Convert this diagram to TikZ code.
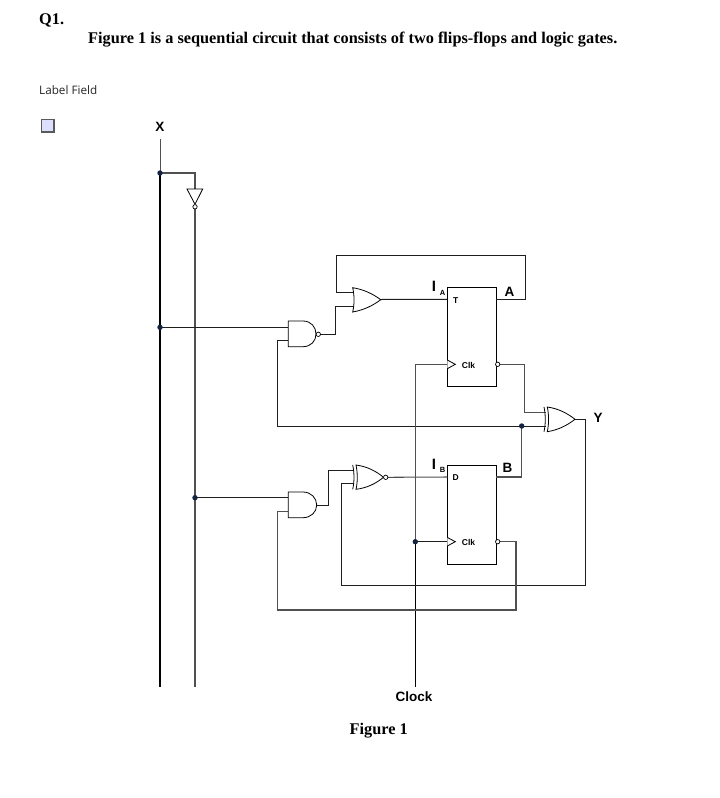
\documentclass[tikz,border=0pt]{standalone}
\usepackage{fontspec}
\setmainfont{Liberation Serif}
\setsansfont{Liberation Sans}
\newfontfamily\uifont{Open Sans}
\definecolor{wirec}{HTML}{1E1E1E}
\definecolor{wirem}{HTML}{505050}
\definecolor{dotc}{HTML}{14233F}
\tikzset{
  wire/.style={draw=wirec,line width=1pt},
  wireg/.style={draw=wirem,line width=1.05pt},
  thinw/.style={draw=wirem,line width=1pt},
  bus/.style={draw=black,line width=1.1pt},
  gate/.style={draw=black,line width=0.8pt,fill=white},
  ffbox/.style={draw=black,line width=0.8pt,fill=white,minimum width=48.4pt,anchor=north west,inner sep=0pt},
  bub/.style={circle,draw=black,line width=0.7pt,fill=white,minimum size=4.4pt,inner sep=0pt},
  jdot/.style={circle,fill=dotc,minimum size=5.4pt,inner sep=0pt},
  title/.style={font=\rmfamily\bfseries\fontsize{16.3}{18}\selectfont,anchor=west,inner sep=0pt},
  lab/.style={font=\sffamily\bfseries\fontsize{13.5}{16}\selectfont,inner sep=0pt},
  ilab/.style={font=\sffamily\bfseries\fontsize{15}{16}\selectfont,inner sep=0pt},
  sub/.style={font=\sffamily\bfseries\fontsize{7.5}{9}\selectfont,inner sep=0pt},
  pin/.style={font=\sffamily\bfseries\fontsize{8.5}{10}\selectfont,inner sep=0pt},
}
\begin{document}
\begin{tikzpicture}[x=1pt,y=-1pt]
\useasboundingbox (0,0) rectangle (720,798);
\fill[white] (0,0) rectangle (720,798);
% texts
\node[title] (q) at (39,20.5) {Q1.};
\node[title] (head) at (88,39.5) {Figure 1 is a sequential circuit that consists of two flips-flops and logic gates.};
\node[font=\uifont\fontsize{11.7}{14}\selectfont,anchor=west,inner sep=0pt,text=black!85] (lf) at (39,90.5) {Label Field};
\node[draw=black!65,line width=1.3pt,fill=blue!13,minimum size=12.4pt,inner sep=0pt,anchor=north west] (cb) at (40.8,118.8) {};
\node[lab] (xl) at (160,126.5) {X};
\node[lab] (clockl) at (414,697) {Clock};
\node[title,anchor=center] (fig) at (378.7,731) {Figure 1};
\node[lab] (yl) at (598,417.5) {Y};
% flip-flops
\node[ffbox,minimum height=99pt] (ffa) at (447.3,287.3) {};
\node[ffbox,minimum height=99.3pt] (ffb) at (447.3,465) {};
\node[pin] (t) at (455.7,301) {T};
\node[pin] (d) at (455.7,478) {D};
\node[pin] (ca) at (468.5,365) {Clk};
\node[pin] (cb2) at (468.5,542.3) {Clk};
\node[ilab] (ia) at (434,286) {I};
\node[sub] (ias) at (442.5,292.5) {A};
\node[ilab] (ib) at (434,464) {I};
\node[sub] (ibs) at (442.5,470) {B};
\node[lab] (al) at (509.5,291.5) {A};
\node[lab] (bl) at (507.5,467.5) {B};
% pins and junctions
\coordinate (xtop) at (160,139);
\coordinate (xbot) at (160,687);
\coordinate (nbot) at (195,687);
\coordinate (j1) at (160,173);
\coordinate (invtop) at (195,189);
\coordinate (invbub) at (195,206.8);
\coordinate (j2) at (160,327.3);
\coordinate (j3) at (195,497.7);
\coordinate (nanda) at (288.3,327.3);
\coordinate (nandb) at (288.3,340.7);
\coordinate (nando) at (320.3,334.3);
\coordinate (anda) at (288.3,497.7);
\coordinate (andb) at (288.3,511.3);
\coordinate (ando) at (316.7,505);
\coordinate (ora) at (354,292.3);
\coordinate (orb) at (354,306.3);
\coordinate (oro) at (380.7,299.5);
\coordinate (xa) at (545.5,412.7);
\coordinate (xb) at (545.5,426);
\coordinate (xo) at (575,419.3);
\coordinate (na) at (353.5,470);
\coordinate (nb) at (353.5,483.3);
\coordinate (no) at (387.8,477.3);
\coordinate (tin) at (447.3,299.3);
\coordinate (qa) at (495.7,299.3);
\coordinate (dinp) at (447.3,477);
\coordinate (qb) at (495.7,477);
\coordinate (cka) at (447.3,364.3);
\coordinate (ckb) at (447.3,541.7);
\coordinate (nqa) at (499.8,364.3);
\coordinate (nqb) at (499.8,541.7);
\coordinate (clkbot) at (415.3,687);
\coordinate (jclk) at (415.3,541.7);
\coordinate (jb) at (521.7,426);
% wires
\draw[thinw] (xtop) -- (j1);
\draw[bus] (j1) -- (xbot);
\draw[wireg] (j1) -- (195,173) -- (invtop);
\draw[wireg] (invbub) -- (nbot);
\draw[wire] (j2) -- (nanda);
\draw[wire] (j3) -- (anda);
\draw[wire] (nando) -| (335.3,306.3) -- (orb);
\draw[wire] (ora) -- (336.3,292.3) |- (525.7,255.3) |- (qa);
\draw[wire] (oro) -- (tin);
\draw[wire] (nandb) -- (277.3,340.7) |- (xb);
\draw[wireg] (cka) -- (415.3,364.3) -- (clkbot);
\draw[bus] (jclk) -- (clkbot);
\draw[wire,line width=1.4pt] (jclk) -- (ckb);
\draw[wireg] (nqa) -- (524.7,364.3) |- (xa);
\draw[wireg] (qb) -| (jb);
\draw[wire] (xo) -- (585,419.3) |- (341.3,585.7) |- (nb);
\draw[wire] (ando) -- (328.3,505) |- (na);
\draw[wireg] (no) -- (dinp);
\draw[wireg] (nqb) -- (516,541.7) |- (277.3,610) |- (andb);
% inverter
\draw[gate] (187,189) -- (202.7,189) -- (195,204.3) -- cycle;
\node[bub] (b0) at (invbub) {};
% NAND
\draw[gate] (288.3,321) -- (303,321) .. controls (311,321) and (316,327) .. (316,334) .. controls (316,341) and (311,346.7) .. (303,346.7) -- (288.3,346.7) -- cycle;
\node[bub] (b1) at (318.3,334.3) {};
% AND
\draw[gate] (288.3,492) -- (303,492) .. controls (311,492) and (316.7,498) .. (316.7,505) .. controls (316.7,512) and (311,517.7) .. (303,517.7) -- (288.3,517.7) -- cycle;
% OR
\draw[gate] (352.7,287.7) .. controls (364,289.5) and (373,294) .. (380.7,299.7) .. controls (373,305.5) and (364,310) .. (352.7,312) .. controls (354.5,304) and (354.5,296) .. (352.7,287.7) -- cycle;
% XOR
\draw[gate] (547.3,407) .. controls (558,408.5) and (567,413) .. (575,419.3) .. controls (567,425.5) and (558,430) .. (547.3,431.7) .. controls (549,424) and (549,415) .. (547.3,407) -- cycle;
\draw[gate,fill=none] (544,407) .. controls (545.7,415) and (545.7,424) .. (544,431.7);
% XNOR
\draw[gate] (356,465) .. controls (367,466.5) and (376,471) .. (383.5,477.3) .. controls (376,483.5) and (367,488) .. (356,489.3) .. controls (357.7,482) and (357.7,473) .. (356,465) -- cycle;
\draw[gate,fill=none] (352.7,465) .. controls (354.4,473) and (354.4,482) .. (352.7,489.3);
\node[bub] (b2) at (385.7,477.3) {};
% clock triangles and bubbles of the flip-flops
\draw[gate] (447.3,360) -- (455.3,364.3) -- (447.3,368.7);
\draw[gate] (447.3,537.4) -- (455.3,541.7) -- (447.3,546);
\node[bub] (b3) at (497.7,364.3) {};
\node[bub] (b4) at (497.7,541.7) {};
% junction dots
\node[jdot] (d1) at (j1) {};
\node[jdot] (d2) at (j2) {};
\node[jdot] (d3) at (j3) {};
\node[jdot] (d4) at (jclk) {};
\node[jdot] (d5) at (jb) {};
\end{tikzpicture}
\end{document}
